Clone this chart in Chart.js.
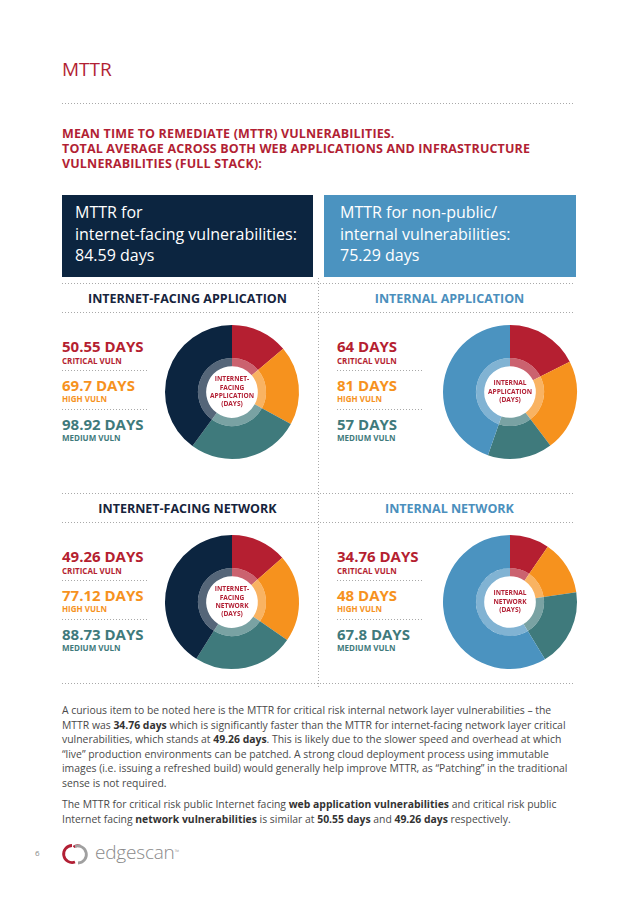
<!DOCTYPE html>
<html>
<head>
<meta charset="utf-8">
<script src="https://cdn.jsdelivr.net/npm/chart.js@4"></script>
<style>
  html,body{margin:0;padding:0;background:#fff;}
  body{width:638px;height:902px;position:relative;overflow:hidden;font-family:"Open Sans",sans-serif;}
  .abs{position:absolute;}
  .hdot{position:absolute;height:1px;background:repeating-linear-gradient(to right,#a9a9a9 0 1px,transparent 1px 3px);}
  .vdot{position:absolute;width:1px;background:repeating-linear-gradient(to bottom,#a9a9a9 0 1px,transparent 1px 3px);}
  .title{left:62px;top:57px;font-size:19px;line-height:24px;color:#b21f34;font-weight:400;}
  .sub{left:62px;font-size:12.5px;line-height:13px;height:13px;color:#b21f34;font-weight:700;white-space:nowrap;letter-spacing:0.15px;}
  .box{top:195px;height:82px;color:#fff;font-size:16px;line-height:21.5px;box-sizing:border-box;padding-top:7px;white-space:nowrap;}
  .head{font-size:12.5px;font-weight:700;text-align:center;width:251px;line-height:16px;white-space:nowrap;}
  .big{font-size:15px;font-weight:700;line-height:15px;white-space:nowrap;}
  .small{font-size:8px;font-weight:700;line-height:9px;white-space:nowrap;}
  .center{width:52px;text-align:center;font-size:6.6px;line-height:8.4px;font-weight:700;color:#b21f34;white-space:nowrap;}
  .para{left:62px;font-size:10.4px;line-height:14.6px;color:#4a4a4a;white-space:nowrap;}
  .para b{color:#333;}
</style>
</head>
<body>
<div class="abs title">MTTR</div>
<div class="hdot" style="left:62px;top:103px;width:513px;"></div>
<div class="abs sub" style="top:126.5px;">MEAN TIME TO REMEDIATE (MTTR) VULNERABILITIES.</div>
<div class="abs sub" style="top:141.5px;">TOTAL AVERAGE ACROSS BOTH WEB APPLICATIONS AND INFRASTRUCTURE</div>
<div class="abs sub" style="top:156.5px;">VULNERABILITIES (FULL STACK):</div>

<div class="abs box" style="left:62px;width:251px;background:#0c2540;padding-left:13px;">MTTR for<br>internet-facing vulnerabilities:<br>84.59 days</div>
<div class="abs box" style="left:324px;width:252px;background:#4b93c0;padding-left:16px;">MTTR for non-public/<br>internal vulnerabilities:<br>75.29 days</div>

<div class="hdot" style="left:62px;top:283px;width:513px;"></div>
<div class="hdot" style="left:62px;top:312px;width:513px;"></div>
<div class="hdot" style="left:62px;top:493px;width:513px;"></div>
<div class="hdot" style="left:62px;top:522px;width:513px;"></div>
<div class="hdot" style="left:62px;top:683px;width:513px;"></div>
<div class="vdot" style="left:318px;top:278px;height:410px;"></div>

<div id="layer"></div>

<div class="abs para" style="top:703px;">A curious item to be noted here is the MTTR for critical risk internal network layer vulnerabilities – the<br>MTTR was <b>34.76 days</b> which is significantly faster than the MTTR for internet-facing network layer critical<br>vulnerabilities, which stands at <b>49.26 days</b>. This is likely due to the slower speed and overhead at which<br>“live” production environments can be patched. A strong cloud deployment process using immutable<br>images (i.e. issuing a refreshed build) would generally help improve MTTR, as “Patching” in the traditional<br>sense is not required.</div>
<div class="abs para" style="top:797px;">The MTTR for critical risk public Internet facing <b>web application vulnerabilities</b> and critical risk public<br>Internet facing <b>network vulnerabilities</b> is similar at <b>50.55 days</b> and <b>49.26 days</b> respectively.</div>

<div class="abs" style="left:35px;top:847px;font-size:8px;color:#888;">6</div>
<svg class="abs" style="left:61px;top:842px;" width="30" height="24" viewBox="0 0 30 24">
  <path d="M11 3.5 A8.5 8.5 0 1 0 14 20" fill="none" stroke="#b21f34" stroke-width="2.8"/>
  <path d="M12.5 5 A7 7 0 0 1 19 4" fill="none" stroke="#b21f34" stroke-width="2.8"/>
  <path d="M17 21 A8.5 8.5 0 1 0 14 4.5" fill="none" stroke="#a0a0a0" stroke-width="2.8"/>
</svg>
<div class="abs" style="left:95px;top:839px;font-size:19px;line-height:26px;color:#8a8a8a;font-weight:300;letter-spacing:-0.2px;">edgescan<span style="font-size:6px;vertical-align:top;">™</span></div>

<script>
// ---- data ----
const categories = ['Critical vuln', 'High vuln', 'Medium vuln', 'Remaining of year'];
const internetFacingApplication = [50.55, 69.7, 98.92];
const internalApplication = [64, 81, 57];
const internetFacingNetwork = [49.26, 77.12, 88.73];
const internalNetwork = [34.76, 48, 67.8];
const remainderDays = [145.83, 163, 149.89, 214.44];
const chartTitles = ['INTERNET-FACING APPLICATION', 'INTERNAL APPLICATION', 'INTERNET-FACING NETWORK', 'INTERNAL NETWORK'];
const centerLabels = [['INTERNET-','FACING','APPLICATION','(DAYS)'], ['INTERNAL','APPLICATION','(DAYS)'], ['INTERNET-','FACING','NETWORK','(DAYS)'], ['INTERNAL','NETWORK','(DAYS)']];
const dayLabels = [['50.55 DAYS','69.7 DAYS','98.92 DAYS'], ['64 DAYS','81 DAYS','57 DAYS'], ['49.26 DAYS','77.12 DAYS','88.73 DAYS'], ['34.76 DAYS','48 DAYS','67.8 DAYS']];
const vulnLabels = ['CRITICAL VULN', 'HIGH VULN', 'MEDIUM VULN'];

// ---- styling ----
const RED = '#b51f31', ORANGE = '#f6921e', TEAL = '#3f7a7c', NAVY = '#0c2540', BLUE = '#4b93c0';
const labelColors = [RED, ORANGE, TEAL];
const panels = [
  {data: internetFacingApplication, rest: remainderDays[0], restColor: NAVY, col: 0, row: 0, head: '#16243c'},
  {data: internalApplication, rest: remainderDays[1], restColor: BLUE, col: 1, row: 0, head: '#4b8fbd'},
  {data: internetFacingNetwork, rest: remainderDays[2], restColor: NAVY, col: 0, row: 1, head: '#16243c'},
  {data: internalNetwork, rest: remainderDays[3], restColor: BLUE, col: 1, row: 1, head: '#4b8fbd'}
];
function lighten(hex, a) {
  const n = parseInt(hex.slice(1), 16);
  const r = (n >> 16) & 255, g = (n >> 8) & 255, b = n & 255;
  const m = v => Math.round(v + (255 - v) * a);
  return `rgb(${m(r)},${m(g)},${m(b)})`;
}
const layer = document.getElementById('layer');
panels.forEach((p, i) => {
  const colX = p.col === 0 ? 62 : 324;
  const rowY = p.row === 0 ? 0 : 210;
  const textX = p.col === 0 ? 62 : 337;
  const cx = p.col === 0 ? 232 : 510;
  const cy = 392 + rowY;
  const h = document.createElement('div');
  h.className = 'abs head';
  h.style.left = colX + 'px'; h.style.top = (291 + rowY) + 'px'; h.style.color = p.head;
  h.textContent = chartTitles[i];
  layer.appendChild(h);
  const bigY = [346.5, 385, 424], smallY = [360, 398.5, 437.5], sepY = [370, 409];
  for (let k = 0; k < 3; k++) {
    const b = document.createElement('div');
    b.className = 'abs big'; b.style.color = labelColors[k];
    b.style.left = textX + 'px'; b.style.top = (bigY[k] - 7.5 + rowY) + 'px';
    b.textContent = dayLabels[i][k];
    layer.appendChild(b);
    const s = document.createElement('div');
    s.className = 'abs small'; s.style.color = labelColors[k];
    s.style.left = textX + 'px'; s.style.top = (smallY[k] - 4.5 + rowY) + 'px';
    s.textContent = vulnLabels[k];
    layer.appendChild(s);
  }
  sepY.forEach(y => {
    const d = document.createElement('div');
    d.className = 'hdot';
    d.style.left = textX + 'px'; d.style.top = (y + rowY) + 'px'; d.style.width = '86px';
    layer.appendChild(d);
  });
  const wrap = document.createElement('div');
  wrap.className = 'abs';
  wrap.style.left = (cx - 70) + 'px'; wrap.style.top = (cy - 70) + 'px';
  wrap.style.width = '140px'; wrap.style.height = '140px';
  const cv = document.createElement('canvas');
  cv.width = 140; cv.height = 140;
  wrap.appendChild(cv);
  layer.appendChild(wrap);
  const colors = [RED, ORANGE, TEAL, p.restColor];
  const values = [...p.data, p.rest];
  new Chart(cv, {
    type: 'doughnut',
    data: {
      labels: categories,
      datasets: [
        {data: values, backgroundColor: colors, borderWidth: 0, weight: 32},
        {data: values, backgroundColor: colors.map(c => lighten(c, 0.3)), borderWidth: 0, weight: 8}
      ]
    },
    options: {
      responsive: false, animation: false, radius: 67, cutout: 27,
      layout: {padding: 0},
      plugins: {legend: {display: false}, tooltip: {enabled: false}}
    }
  });
  const c = document.createElement('div');
  c.className = 'abs center';
  const lines = centerLabels[i];
  c.style.left = (cx - 26) + 'px';
  c.style.top = (cy - lines.length * 8.4 / 2) + 'px';
  c.innerHTML = lines.join('<br>');
  layer.appendChild(c);
});
</script>
</body>
</html>
